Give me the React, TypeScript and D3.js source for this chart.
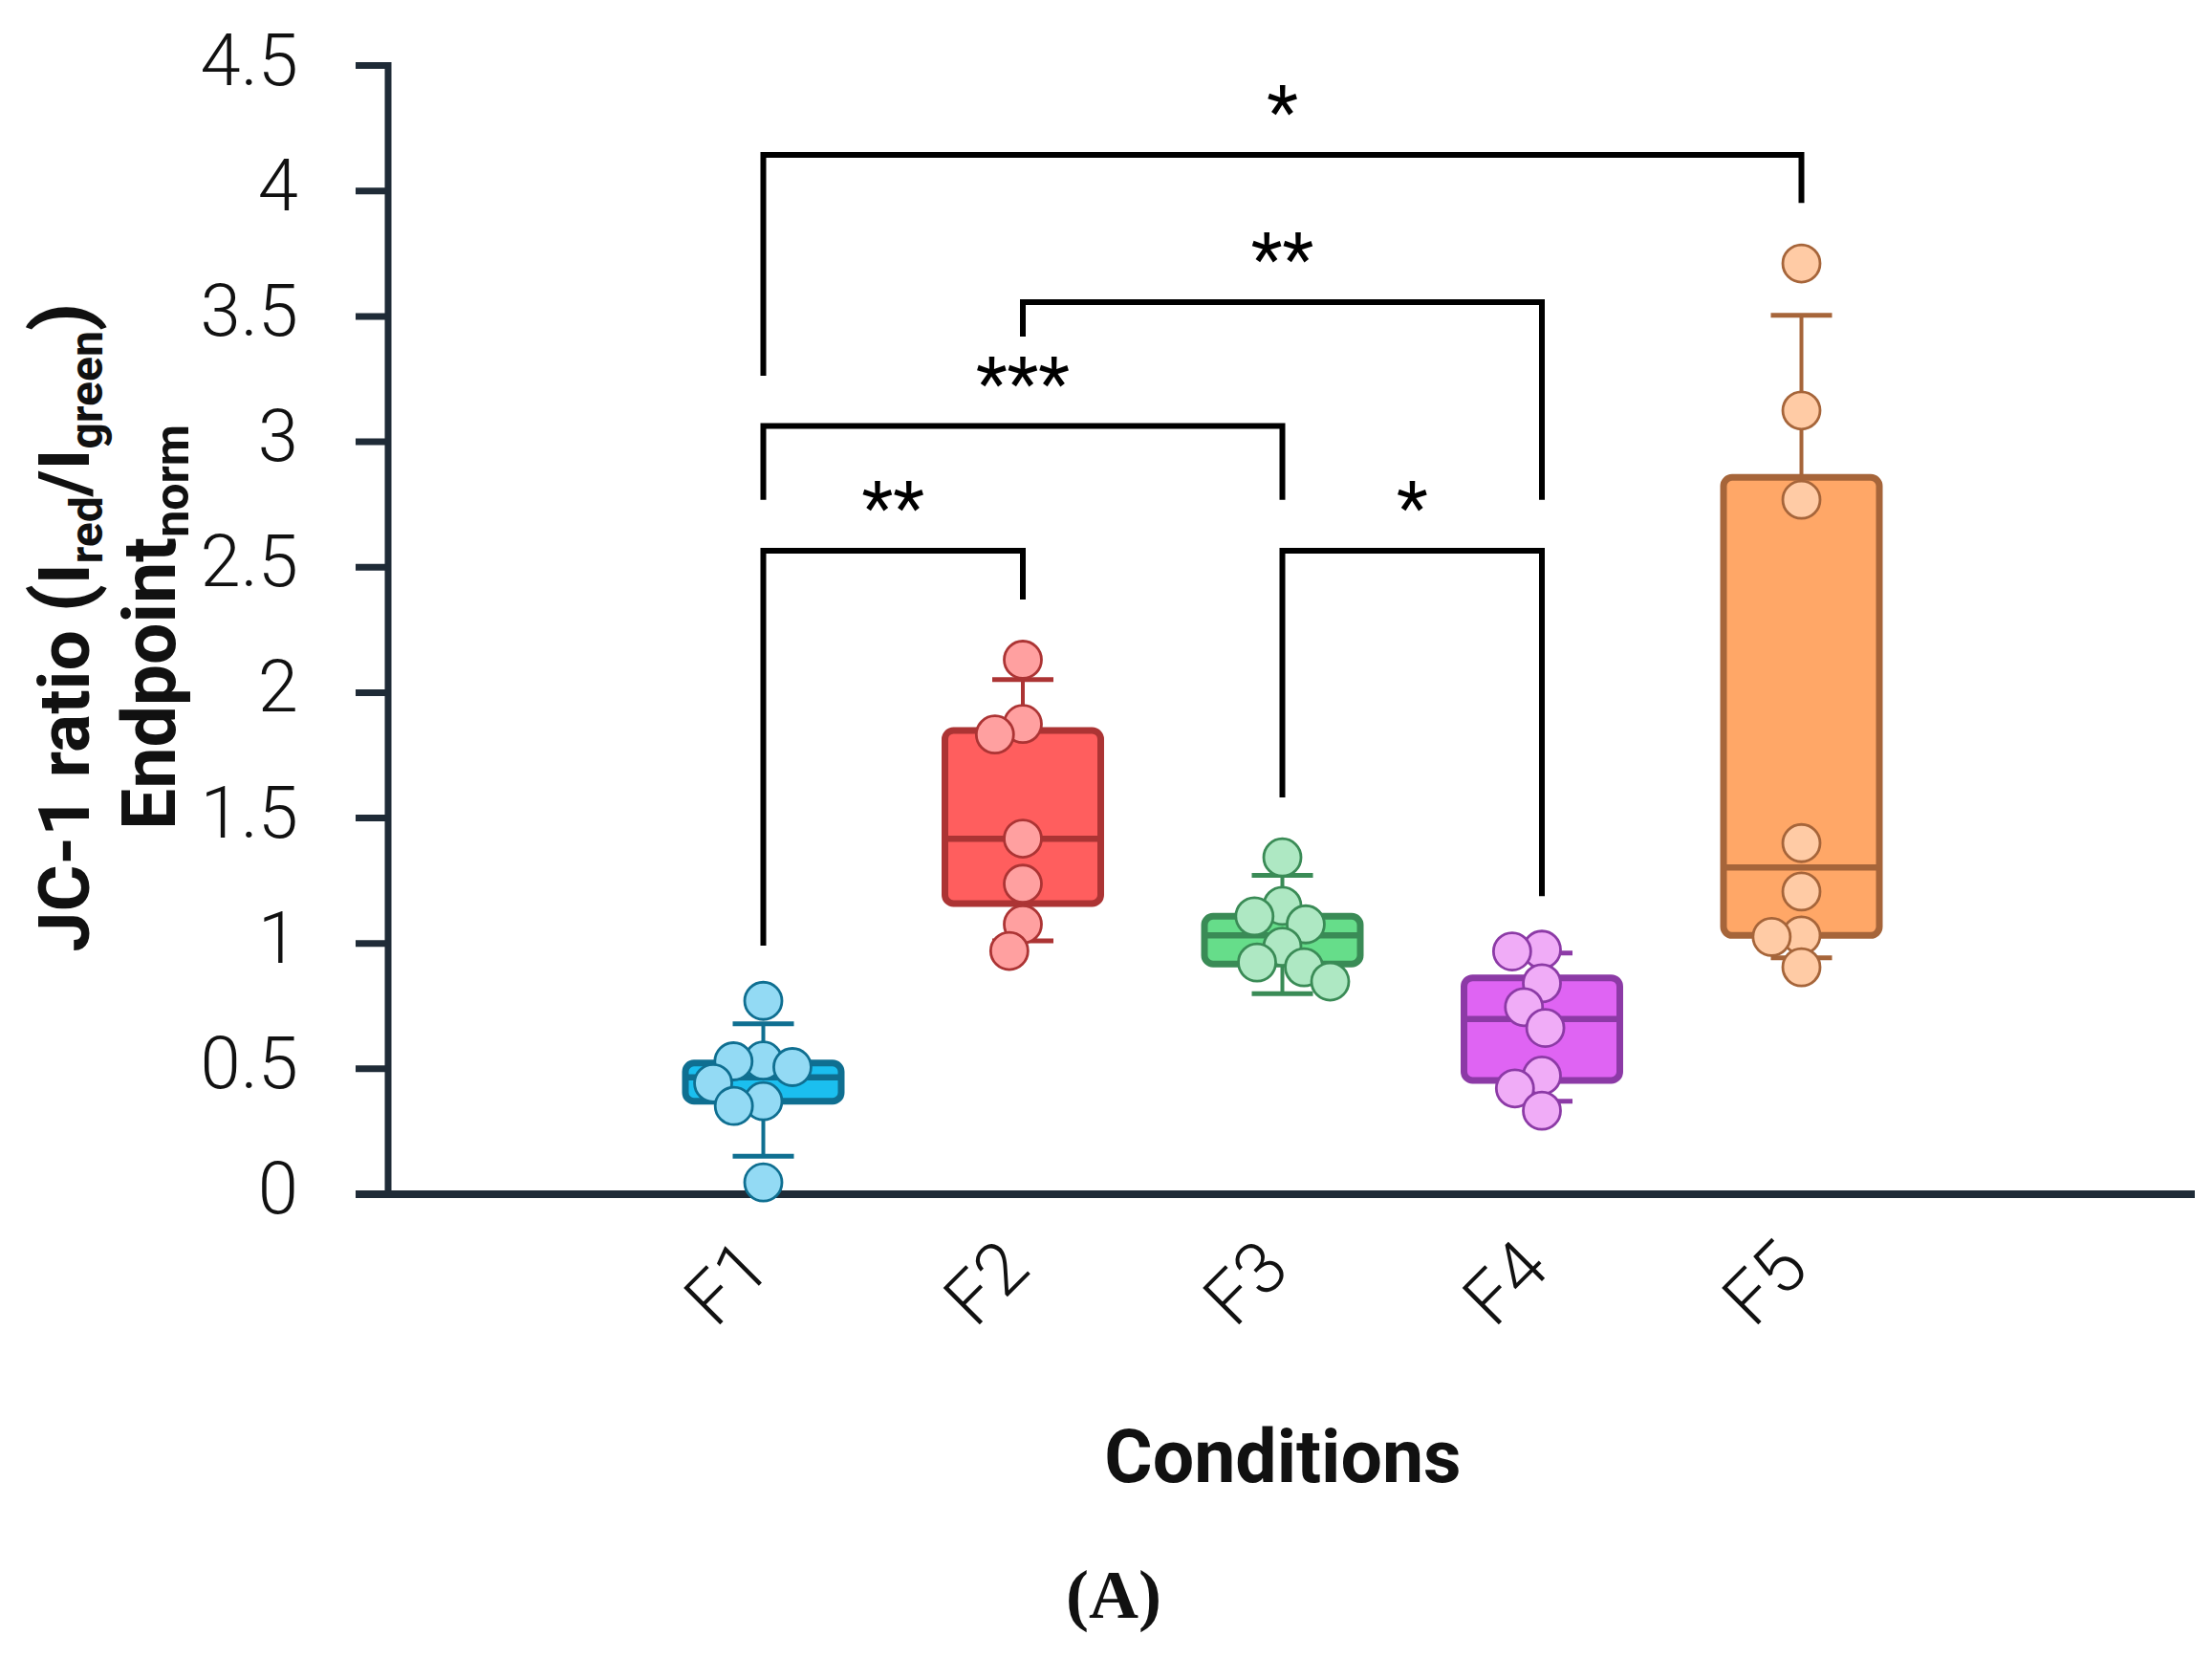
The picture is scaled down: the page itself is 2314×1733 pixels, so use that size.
import * as d3 from 'd3';

// ── Canvas ────────────────────────────────────────────────────────────────────
const W = 2314;
const H = 1733;

// ── Data ──────────────────────────────────────────────────────────────────────
const CATS = ['F1', 'F2', 'F3', 'F4', 'F5'];
const Y_TICKS = [0, 0.5, 1, 1.5, 2, 2.5, 3, 3.5, 4, 4.5];

// Box statistics
const Q1        = [0.371, 1.159, 0.918, 0.454, 1.032];
const MEDIAN    = [0.466, 1.417, 1.032, 0.699, 1.303];
const Q3        = [0.523, 1.849, 1.108, 0.863, 2.858];
const WHISK_LO  = [0.152, 1.010, 0.800, 0.371, 0.943];
const WHISK_HI  = [0.680, 2.052, 1.271, 0.962, 3.504];

// Individual observations (descending)
const F1_PTS = [0.771, 0.533, 0.530, 0.507, 0.443, 0.371, 0.352, 0.047];
const F2_PTS = [2.131, 1.875, 1.833, 1.418, 1.238, 1.076, 0.970];
const F3_PTS = [1.343, 1.150, 1.108, 1.076, 0.987, 0.924, 0.905, 0.848];
const F4_PTS = [0.975, 0.968, 0.841, 0.746, 0.663, 0.473, 0.422, 0.333];
const F5_PTS = [3.711, 3.125, 2.769, 1.400, 1.207, 1.032, 1.026, 0.905];
const POINTS = [F1_PTS, F2_PTS, F3_PTS, F4_PTS, F5_PTS];

// Significance brackets (levels in data units)
const BR_FROM     = ['F1', 'F2', 'F1', 'F1', 'F3'];
const BR_TO       = ['F5', 'F4', 'F3', 'F2', 'F4'];
const BR_LEVEL    = [4.144, 3.557, 3.063, 2.566, 2.566];
const BR_FROM_END = [3.263, 3.420, 2.769, 0.991, 1.582];
const BR_TO_END   = [3.952, 2.769, 2.769, 2.371, 1.188];
const BR_LABEL    = ['*', '**', '***', '**', '*'];

// ── Styles ────────────────────────────────────────────────────────────────────
const BOX_FILL   = ['#1bbfef', '#ff5e5e', '#66dd8a', '#df64f3', '#ffa767'];
const BOX_STROKE = ['#0f6f91', '#ac3434', '#3a8b56', '#8c3aa6', '#a6653a'];
const PT_FILL    = ['#93daf4', '#ffa0a0', '#aee8c3', '#f0acf7', '#ffcba5'];
const AXIS = '#1f2b37';
const INK  = '#111';
const FONT = 'Roboto, "Noto Sans", sans-serif';

// ── Scales ────────────────────────────────────────────────────────────────────
const AXIS_X = 406;
const y = d3.scaleLinear().domain([0, 4.5]).range([1249, 68.6]);
const x = d3.scalePoint<string>().domain(CATS).range([798.5, 1884.5]);

const BOX_HW = 81.5;
const CAP_HW = 32;
const R = 19.5;

// simple dodge (beeswarm) — allows some overlap like the original
function dodge(values: number[], cx: number) {
  const D = R * 2 * 0.8;
  const placed: { x: number; y: number; v: number }[] = [];
  for (const v of values) {
    const py = y(v);
    const cands = [0];
    for (const p of placed) {
      const dy = Math.abs(p.y - py);
      if (dy < D) {
        const dx = Math.sqrt(D * D - dy * dy);
        cands.push(p.x - dx, p.x + dx);
      }
    }
    cands.sort((a, b) => Math.abs(a) - Math.abs(b) || a - b);
    const px = cands.find(c => placed.every(p => Math.hypot(p.x - c, p.y - py) >= D - 1e-6)) ?? 0;
    placed.push({ x: px, y: py, v });
  }
  return placed.map(p => ({ ...p, x: p.x + cx }));
}

export default function App() {
  return (
    <svg
      width={W}
      height={H}
      viewBox={`0 0 ${W} ${H}`}
      style={{ position: 'absolute', left: 0, top: 0, background: '#fff', display: 'block' }}
    >
      {/* Y axis */}
      <line x1={AXIS_X} x2={AXIS_X} y1={y(4.5) - 3.5} y2={y(0)} stroke={AXIS} strokeWidth={7} />
      {Y_TICKS.map(t => (
        <g key={t}>
          <line x1={372} x2={AXIS_X} y1={y(t)} y2={y(t)} stroke={AXIS} strokeWidth={7} />
          <text
            x={312} y={y(t) + 20}
            textAnchor="end" fontSize={76} fontWeight={300} fontFamily={FONT} fill={INK}
          >
            {String(t)}
          </text>
        </g>
      ))}

      {/* X axis */}
      <line x1={372} x2={2296} y1={y(0)} y2={y(0)} stroke={AXIS} strokeWidth={8} />
      {CATS.map(c => (
        <text
          key={c}
          transform={`translate(${(x(c) ?? 0) + 10},1330) rotate(-45)`}
          textAnchor="end" fontSize={76} fontWeight={300} fontFamily={FONT} fill={INK}
        >
          {c}
        </text>
      ))}

      {/* Boxes */}
      {CATS.map((c, i) => {
        const cx = x(c) ?? 0;
        const pts = dodge(POINTS[i], cx);
        return (
          <g key={c}>
            <line x1={cx} x2={cx} y1={y(WHISK_HI[i])} y2={y(Q3[i])} stroke={BOX_STROKE[i]} strokeWidth={4} />
            <line x1={cx} x2={cx} y1={y(Q1[i])} y2={y(WHISK_LO[i])} stroke={BOX_STROKE[i]} strokeWidth={4} />
            <line x1={cx - CAP_HW} x2={cx + CAP_HW} y1={y(WHISK_HI[i])} y2={y(WHISK_HI[i])} stroke={BOX_STROKE[i]} strokeWidth={5} />
            <line x1={cx - CAP_HW} x2={cx + CAP_HW} y1={y(WHISK_LO[i])} y2={y(WHISK_LO[i])} stroke={BOX_STROKE[i]} strokeWidth={5} />
            <rect
              x={cx - BOX_HW} width={BOX_HW * 2}
              y={y(Q3[i])} height={y(Q1[i]) - y(Q3[i])}
              rx={9} fill={BOX_FILL[i]} stroke={BOX_STROKE[i]} strokeWidth={7}
            />
            <line x1={cx - BOX_HW} x2={cx + BOX_HW} y1={y(MEDIAN[i])} y2={y(MEDIAN[i])} stroke={BOX_STROKE[i]} strokeWidth={6.5} />
            {pts.map((p, j) => (
              <circle key={j} cx={p.x} cy={p.y} r={R} fill={PT_FILL[i]} stroke={BOX_STROKE[i]} strokeWidth={2.8} />
            ))}
          </g>
        );
      })}

      {/* Significance brackets */}
      {BR_FROM.map((a, i) => {
        const xa = x(a) ?? 0;
        const xb = x(BR_TO[i]) ?? 0;
        const yl = y(BR_LEVEL[i]);
        return (
          <g key={i}>
            <path
              d={`M${xa},${y(BR_FROM_END[i])}V${yl}H${xb}V${y(BR_TO_END[i])}`}
              fill="none" stroke="#000" strokeWidth={6}
            />
            <text
              x={(xa + xb) / 2} y={yl - 19}
              textAnchor="middle" fontSize={76} fontFamily={FONT} fill="#000"
            >
              {BR_LABEL[i]}
            </text>
          </g>
        );
      })}

      {/* Axis titles */}
      <text
        transform={`translate(93,656) rotate(-90)`}
        textAnchor="middle" fontSize={75} fontWeight={700} fontFamily={FONT} fill={INK}
      >
        JC-1 ratio <tspan fontSize={84}>(</tspan>I<tspan fontSize={48} dy={14}>red</tspan><tspan dy={-14}>/I</tspan><tspan fontSize={48} dy={14}>green</tspan><tspan fontSize={84} dy={-14}>)</tspan>
      </text>
      <text
        transform={`translate(183,656) rotate(-90)`}
        textAnchor="middle" fontSize={77} fontWeight={700} fontFamily={FONT} fill={INK}
      >
        Endpoint<tspan fontSize={50} dy={14}>norm</tspan>
      </text>
      <text
        x={1342} y={1550}
        textAnchor="middle" fontSize={77} fontWeight={700} fontFamily={FONT} fill={INK}
      >
        Conditions
      </text>
      <text
        x={1165} y={1692}
        textAnchor="middle" fontSize={72} fontWeight={700} fontFamily={'"Liberation Serif", serif'} fill={INK}
      >
        (A)
      </text>
    </svg>
  );
}
